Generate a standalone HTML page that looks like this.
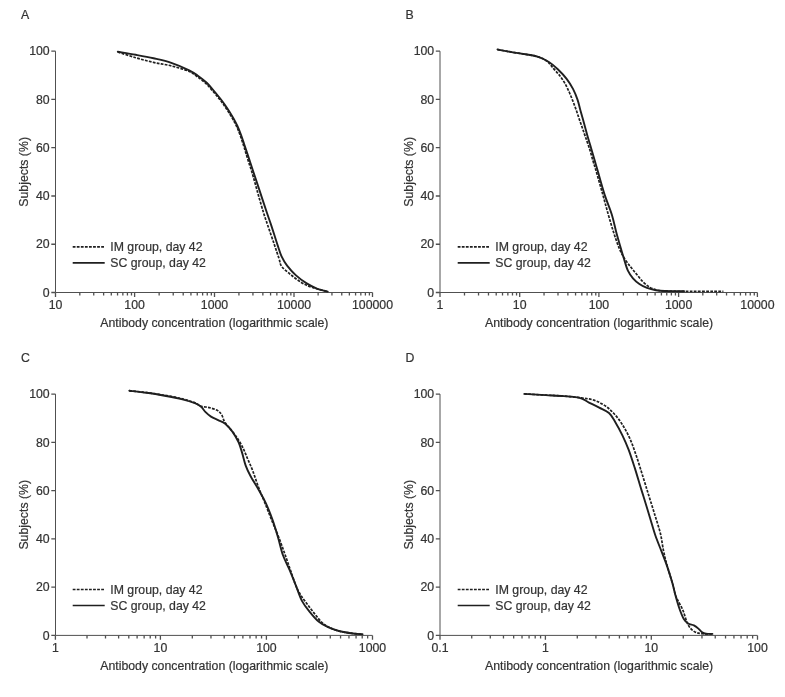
<!DOCTYPE html>
<html lang="en"><head><meta charset="utf-8"><title>Reverse cumulative distribution curves</title>
<style>html,body{margin:0;padding:0;background:#fff;}svg{display:block;}text{font-family:"Liberation Sans", sans-serif;font-size:12px;fill:#333;stroke:#333;stroke-width:0.2px;}</style>
</head><body>
<svg width="785" height="697" viewBox="0 0 785 697">
<rect width="785" height="697" fill="#fff"/>
<g>
<text transform="translate(21.00 19.00) scale(1.025 1)">A</text>
<path d="M55.50 51.20 V292.50 H372.50" fill="none" stroke="#505050" stroke-width="1"/>
<path d="M55.50 292.50 h-4.2 M55.50 244.24 h-4.2 M55.50 195.98 h-4.2 M55.50 147.72 h-4.2 M55.50 99.46 h-4.2 M55.50 51.20 h-4.2 M55.50 292.50 v4.4 M79.81 292.50 v3.0 M93.74 292.50 v3.0 M103.62 292.50 v3.0 M111.29 292.50 v3.0 M117.55 292.50 v3.0 M122.85 292.50 v3.0 M127.43 292.50 v3.0 M131.48 292.50 v3.0 M134.60 292.50 v4.4 M159.15 292.50 v3.0 M173.22 292.50 v3.0 M183.20 292.50 v3.0 M190.95 292.50 v3.0 M197.27 292.50 v3.0 M202.62 292.50 v3.0 M207.26 292.50 v3.0 M211.34 292.50 v3.0 M214.50 292.50 v4.4 M238.93 292.50 v3.0 M252.93 292.50 v3.0 M262.86 292.50 v3.0 M270.57 292.50 v3.0 M276.86 292.50 v3.0 M282.19 292.50 v3.0 M286.80 292.50 v3.0 M290.86 292.50 v3.0 M294.00 292.50 v4.4 M318.13 292.50 v3.0 M331.95 292.50 v3.0 M341.76 292.50 v3.0 M349.37 292.50 v3.0 M355.58 292.50 v3.0 M360.84 292.50 v3.0 M365.39 292.50 v3.0 M369.41 292.50 v3.0 M372.50 292.50 v4.4" fill="none" stroke="#505050" stroke-width="1.3"/>
<text transform="translate(49.70 296.70) scale(1.025 1)" text-anchor="end">0</text>
<text transform="translate(49.70 248.44) scale(1.025 1)" text-anchor="end">20</text>
<text transform="translate(49.70 200.18) scale(1.025 1)" text-anchor="end">40</text>
<text transform="translate(49.70 151.92) scale(1.025 1)" text-anchor="end">60</text>
<text transform="translate(49.70 103.66) scale(1.025 1)" text-anchor="end">80</text>
<text transform="translate(49.70 55.40) scale(1.025 1)" text-anchor="end">100</text>
<text transform="translate(55.50 308.80) scale(1.025 1)" text-anchor="middle">10</text>
<text transform="translate(134.60 308.80) scale(1.025 1)" text-anchor="middle">100</text>
<text transform="translate(214.50 308.80) scale(1.025 1)" text-anchor="middle">1000</text>
<text transform="translate(294.00 308.80) scale(1.025 1)" text-anchor="middle">10000</text>
<text transform="translate(372.50 308.80) scale(1.025 1)" text-anchor="middle">100000</text>
<text transform="translate(214.30 327.20) scale(1.025 1)" text-anchor="middle">Antibody concentration (logarithmic scale)</text>
<text transform="translate(27.90 171.85) rotate(-90) scale(1.025 1)" text-anchor="middle">Subjects (%)</text>
<path d="M72.7 246.9 h31.3" fill="none" stroke="#1f1f1f" stroke-width="1.60" stroke-dasharray="2.8 1.27"/>
<path d="M72.7 262.9 h32" fill="none" stroke="#1f1f1f" stroke-width="1.60"/>
<text transform="translate(110.30 251.20) scale(1.025 1)">IM group, day 42</text>
<text transform="translate(110.30 267.20) scale(1.025 1)">SC group, day 42</text>
<path d="M117.80 52.00 C120.78 52.95 129.75 55.97 135.70 57.70 C141.65 59.43 147.57 61.03 153.50 62.40 C159.43 63.77 165.35 64.40 171.30 65.90 C177.25 67.40 184.85 69.58 189.20 71.40 C193.55 73.22 194.63 74.80 197.40 76.80 C200.17 78.80 203.32 81.12 205.80 83.40 C208.28 85.68 210.12 88.00 212.30 90.50 C214.48 93.00 217.05 96.10 218.90 98.40 C220.75 100.70 221.87 102.17 223.40 104.30 C224.93 106.43 226.57 108.80 228.10 111.20 C229.63 113.60 231.20 116.22 232.60 118.70 C234.00 121.18 235.27 123.43 236.50 126.10 C237.73 128.77 238.90 131.72 240.00 134.70 C241.10 137.68 242.15 141.05 243.10 144.00 C244.05 146.95 244.78 149.40 245.70 152.40 C246.62 155.40 247.57 158.73 248.60 162.00 C249.63 165.27 250.35 166.77 251.90 172.00 C253.45 177.23 255.95 186.57 257.90 193.40 C259.85 200.23 262.00 207.80 263.60 213.00 C265.20 218.20 265.73 219.40 267.50 224.60 C269.27 229.80 272.28 238.55 274.20 244.20 C276.12 249.85 277.75 254.78 279.00 258.50 C280.25 262.22 279.77 263.83 281.70 266.50 C283.63 269.17 287.33 271.83 290.60 274.50 C293.87 277.17 297.73 280.37 301.30 282.50 C304.87 284.63 307.60 285.78 312.00 287.30 C316.40 288.82 325.08 290.88 327.70 291.60" fill="none" stroke="#1f1f1f" stroke-width="1.7" stroke-dasharray="2.8 1.25" stroke-linejoin="round"/>
<path d="M117.80 51.70 C120.78 52.22 129.75 53.70 135.70 54.80 C141.65 55.90 147.57 56.97 153.50 58.30 C159.43 59.63 165.35 60.80 171.30 62.80 C177.25 64.80 184.72 68.10 189.20 70.30 C193.68 72.50 195.28 73.92 198.20 76.00 C201.12 78.08 204.20 80.47 206.70 82.80 C209.20 85.13 211.02 87.47 213.20 90.00 C215.38 92.53 217.95 95.67 219.80 98.00 C221.65 100.33 222.77 101.83 224.30 104.00 C225.83 106.17 227.47 108.58 229.00 111.00 C230.53 113.42 232.10 116.00 233.50 118.50 C234.90 121.00 236.17 123.32 237.40 126.00 C238.63 128.68 239.78 131.60 240.90 134.60 C242.02 137.60 243.10 141.03 244.10 144.00 C245.10 146.97 245.90 149.40 246.90 152.40 C247.90 155.40 249.02 158.73 250.10 162.00 C251.18 165.27 251.67 166.77 253.40 172.00 C255.13 177.23 258.23 186.57 260.50 193.40 C262.77 200.23 265.25 207.80 267.00 213.00 C268.75 218.20 269.28 219.40 271.00 224.60 C272.72 229.80 275.52 238.85 277.30 244.20 C279.08 249.55 280.07 253.13 281.70 256.70 C283.33 260.27 284.72 262.48 287.10 265.60 C289.48 268.72 292.73 272.43 296.00 275.40 C299.27 278.37 303.13 281.17 306.70 283.40 C310.27 285.63 313.90 287.43 317.40 288.80 C320.90 290.17 325.98 291.13 327.70 291.60" fill="none" stroke="#1f1f1f" stroke-width="1.9" stroke-linejoin="round" stroke-linecap="round"/>
</g>
<g>
<text transform="translate(405.60 19.00) scale(1.025 1)">B</text>
<path d="M440.00 51.20 V292.50 H757.40" fill="none" stroke="#505050" stroke-width="1"/>
<path d="M440.00 292.50 h-4.2 M440.00 244.24 h-4.2 M440.00 195.98 h-4.2 M440.00 147.72 h-4.2 M440.00 99.46 h-4.2 M440.00 51.20 h-4.2 M440.00 292.50 v4.4 M464.49 292.50 v3.0 M478.53 292.50 v3.0 M488.48 292.50 v3.0 M496.21 292.50 v3.0 M502.52 292.50 v3.0 M507.85 292.50 v3.0 M512.48 292.50 v3.0 M516.55 292.50 v3.0 M519.70 292.50 v4.4 M544.04 292.50 v3.0 M557.99 292.50 v3.0 M567.88 292.50 v3.0 M575.56 292.50 v3.0 M581.83 292.50 v3.0 M587.13 292.50 v3.0 M591.72 292.50 v3.0 M595.78 292.50 v3.0 M598.90 292.50 v4.4 M623.39 292.50 v3.0 M637.43 292.50 v3.0 M647.38 292.50 v3.0 M655.11 292.50 v3.0 M661.42 292.50 v3.0 M666.75 292.50 v3.0 M671.38 292.50 v3.0 M675.45 292.50 v3.0 M678.60 292.50 v4.4 M702.82 292.50 v3.0 M716.70 292.50 v3.0 M726.54 292.50 v3.0 M734.18 292.50 v3.0 M740.42 292.50 v3.0 M745.69 292.50 v3.0 M750.26 292.50 v3.0 M754.29 292.50 v3.0 M757.40 292.50 v4.4" fill="none" stroke="#505050" stroke-width="1.3"/>
<text transform="translate(434.20 296.70) scale(1.025 1)" text-anchor="end">0</text>
<text transform="translate(434.20 248.44) scale(1.025 1)" text-anchor="end">20</text>
<text transform="translate(434.20 200.18) scale(1.025 1)" text-anchor="end">40</text>
<text transform="translate(434.20 151.92) scale(1.025 1)" text-anchor="end">60</text>
<text transform="translate(434.20 103.66) scale(1.025 1)" text-anchor="end">80</text>
<text transform="translate(434.20 55.40) scale(1.025 1)" text-anchor="end">100</text>
<text transform="translate(440.00 308.80) scale(1.025 1)" text-anchor="middle">1</text>
<text transform="translate(519.70 308.80) scale(1.025 1)" text-anchor="middle">10</text>
<text transform="translate(598.90 308.80) scale(1.025 1)" text-anchor="middle">100</text>
<text transform="translate(678.60 308.80) scale(1.025 1)" text-anchor="middle">1000</text>
<text transform="translate(757.40 308.80) scale(1.025 1)" text-anchor="middle">10000</text>
<text transform="translate(599.00 327.20) scale(1.025 1)" text-anchor="middle">Antibody concentration (logarithmic scale)</text>
<text transform="translate(412.90 171.85) rotate(-90) scale(1.025 1)" text-anchor="middle">Subjects (%)</text>
<path d="M457.7 246.9 h31.3" fill="none" stroke="#1f1f1f" stroke-width="1.60" stroke-dasharray="2.8 1.27"/>
<path d="M457.7 262.9 h32" fill="none" stroke="#1f1f1f" stroke-width="1.60"/>
<text transform="translate(495.30 251.20) scale(1.025 1)">IM group, day 42</text>
<text transform="translate(495.30 267.20) scale(1.025 1)">SC group, day 42</text>
<path d="M497.50 49.50 C499.82 49.93 506.70 51.30 511.40 52.10 C516.10 52.90 521.23 53.50 525.70 54.30 C530.17 55.10 534.63 55.75 538.20 56.90 C541.77 58.05 544.57 59.28 547.10 61.20 C549.63 63.12 551.32 66.02 553.40 68.40 C555.48 70.78 557.67 72.98 559.60 75.50 C561.53 78.02 563.37 80.67 565.00 83.50 C566.63 86.33 568.07 89.52 569.40 92.50 C570.73 95.48 571.85 98.43 573.00 101.40 C574.15 104.37 575.27 107.38 576.30 110.30 C577.33 113.22 578.20 115.98 579.20 118.90 C580.20 121.82 581.27 124.82 582.30 127.80 C583.33 130.78 584.22 133.37 585.40 136.80 C586.58 140.23 588.13 144.40 589.40 148.40 C590.67 152.40 591.85 156.93 593.00 160.80 C594.15 164.67 594.67 165.97 596.30 171.60 C597.93 177.23 600.82 187.50 602.80 194.60 C604.78 201.70 606.42 207.97 608.20 214.20 C609.98 220.43 611.70 226.42 613.50 232.00 C615.30 237.58 617.23 243.38 619.00 247.70 C620.77 252.02 622.18 254.72 624.10 257.90 C626.02 261.08 628.38 264.03 630.50 266.80 C632.62 269.57 634.68 271.95 636.80 274.50 C638.92 277.05 641.07 279.98 643.20 282.10 C645.33 284.22 647.47 285.92 649.60 287.20 C651.73 288.48 653.88 289.20 656.00 289.80 C658.12 290.40 658.30 290.55 662.30 290.80 C666.30 291.05 669.82 291.22 680.00 291.30 C690.18 291.38 716.17 291.30 723.40 291.30" fill="none" stroke="#1f1f1f" stroke-width="1.7" stroke-dasharray="2.8 1.25" stroke-linejoin="round"/>
<path d="M497.50 49.50 C499.82 49.93 506.70 51.30 511.40 52.10 C516.10 52.90 521.23 53.50 525.70 54.30 C530.17 55.10 534.33 55.62 538.20 56.90 C542.07 58.18 545.63 59.93 548.90 62.00 C552.17 64.07 554.82 66.45 557.80 69.30 C560.78 72.15 564.27 75.83 566.80 79.10 C569.33 82.37 571.22 85.48 573.00 88.90 C574.78 92.32 576.28 96.08 577.50 99.60 C578.72 103.12 579.20 106.03 580.30 110.00 C581.40 113.97 582.87 118.93 584.10 123.40 C585.33 127.87 586.52 132.63 587.70 136.80 C588.88 140.97 590.02 144.40 591.20 148.40 C592.38 152.40 593.68 156.93 594.80 160.80 C595.92 164.67 596.27 165.97 597.90 171.60 C599.53 177.23 602.30 187.50 604.60 194.60 C606.90 201.70 609.77 207.97 611.70 214.20 C613.63 220.43 614.77 226.62 616.20 232.00 C617.63 237.38 618.98 241.97 620.30 246.50 C621.62 251.03 622.83 255.17 624.10 259.20 C625.37 263.23 626.42 267.52 627.90 270.70 C629.38 273.88 631.08 276.08 633.00 278.30 C634.92 280.52 637.07 282.40 639.40 284.00 C641.73 285.60 644.23 286.87 647.00 287.90 C649.77 288.93 653.02 289.68 656.00 290.20 C658.98 290.72 660.23 290.82 664.90 291.00 C669.57 291.18 680.82 291.25 684.00 291.30" fill="none" stroke="#1f1f1f" stroke-width="1.9" stroke-linejoin="round" stroke-linecap="round"/>
</g>
<g>
<text transform="translate(21.00 361.90) scale(1.025 1)">C</text>
<path d="M55.50 394.10 V635.40 H372.50" fill="none" stroke="#505050" stroke-width="1"/>
<path d="M55.50 635.40 h-4.2 M55.50 587.14 h-4.2 M55.50 538.88 h-4.2 M55.50 490.62 h-4.2 M55.50 442.36 h-4.2 M55.50 394.10 h-4.2 M55.40 635.40 v4.4 M87.01 635.40 v3.0 M105.50 635.40 v3.0 M118.62 635.40 v3.0 M128.79 635.40 v3.0 M137.11 635.40 v3.0 M144.14 635.40 v3.0 M150.22 635.40 v3.0 M155.60 635.40 v3.0 M160.40 635.40 v4.4 M192.31 635.40 v3.0 M210.97 635.40 v3.0 M224.22 635.40 v3.0 M234.49 635.40 v3.0 M242.88 635.40 v3.0 M249.98 635.40 v3.0 M256.13 635.40 v3.0 M261.55 635.40 v3.0 M266.40 635.40 v4.4 M298.34 635.40 v3.0 M317.02 635.40 v3.0 M330.28 635.40 v3.0 M340.56 635.40 v3.0 M348.96 635.40 v3.0 M356.06 635.40 v3.0 M362.22 635.40 v3.0 M367.65 635.40 v3.0 M372.50 635.40 v4.4" fill="none" stroke="#505050" stroke-width="1.3"/>
<text transform="translate(49.70 639.60) scale(1.025 1)" text-anchor="end">0</text>
<text transform="translate(49.70 591.34) scale(1.025 1)" text-anchor="end">20</text>
<text transform="translate(49.70 543.08) scale(1.025 1)" text-anchor="end">40</text>
<text transform="translate(49.70 494.82) scale(1.025 1)" text-anchor="end">60</text>
<text transform="translate(49.70 446.56) scale(1.025 1)" text-anchor="end">80</text>
<text transform="translate(49.70 398.30) scale(1.025 1)" text-anchor="end">100</text>
<text transform="translate(55.40 651.70) scale(1.025 1)" text-anchor="middle">1</text>
<text transform="translate(160.40 651.70) scale(1.025 1)" text-anchor="middle">10</text>
<text transform="translate(266.40 651.70) scale(1.025 1)" text-anchor="middle">100</text>
<text transform="translate(372.50 651.70) scale(1.025 1)" text-anchor="middle">1000</text>
<text transform="translate(214.30 670.10) scale(1.025 1)" text-anchor="middle">Antibody concentration (logarithmic scale)</text>
<text transform="translate(27.90 514.75) rotate(-90) scale(1.025 1)" text-anchor="middle">Subjects (%)</text>
<path d="M72.7 589.5 h31.3" fill="none" stroke="#1f1f1f" stroke-width="1.50" stroke-dasharray="2.8 1.27"/>
<path d="M72.7 605.5 h32" fill="none" stroke="#1f1f1f" stroke-width="1.50"/>
<text transform="translate(110.30 594.20) scale(1.025 1)">IM group, day 42</text>
<text transform="translate(110.30 610.20) scale(1.025 1)">SC group, day 42</text>
<path d="M129.30 390.70 C132.22 391.02 140.92 391.83 146.80 392.60 C152.68 393.37 158.67 394.27 164.60 395.30 C170.53 396.33 177.35 397.55 182.40 398.80 C187.45 400.05 191.78 401.57 194.90 402.80 C198.02 404.03 198.72 405.40 201.10 406.20 C203.48 407.00 206.52 406.92 209.20 407.60 C211.88 408.28 215.12 409.10 217.20 410.30 C219.28 411.50 220.37 412.72 221.70 414.80 C223.03 416.88 223.13 419.68 225.20 422.80 C227.27 425.92 231.30 429.63 234.10 433.50 C236.90 437.37 239.77 441.83 242.00 446.00 C244.23 450.17 245.70 454.33 247.50 458.50 C249.30 462.67 250.95 466.17 252.80 471.00 C254.65 475.83 256.57 482.13 258.60 487.50 C260.63 492.87 262.77 497.63 265.00 503.20 C267.23 508.77 269.67 515.10 272.00 520.90 C274.33 526.70 276.78 532.27 279.00 538.00 C281.22 543.73 283.37 549.87 285.30 555.30 C287.23 560.73 288.82 565.50 290.60 570.60 C292.38 575.70 294.33 581.83 296.00 585.90 C297.67 589.97 298.82 592.08 300.60 595.00 C302.38 597.92 304.42 600.33 306.70 603.40 C308.98 606.47 311.75 610.22 314.30 613.40 C316.85 616.58 319.55 620.18 322.00 622.50 C324.45 624.82 326.20 625.88 329.00 627.30 C331.80 628.72 335.13 630.02 338.80 631.00 C342.47 631.98 347.05 632.65 351.00 633.20 C354.95 633.75 360.58 634.12 362.50 634.30" fill="none" stroke="#1f1f1f" stroke-width="1.7" stroke-dasharray="2.8 1.25" stroke-linejoin="round"/>
<path d="M129.30 390.70 C132.22 391.05 140.92 391.97 146.80 392.80 C152.68 393.63 158.67 394.62 164.60 395.70 C170.53 396.78 177.35 398.05 182.40 399.30 C187.45 400.55 191.78 401.95 194.90 403.20 C198.02 404.45 199.32 405.32 201.10 406.80 C202.88 408.28 203.95 410.47 205.60 412.10 C207.25 413.73 208.92 415.27 211.00 416.60 C213.08 417.93 215.73 418.92 218.10 420.10 C220.47 421.28 222.82 421.77 225.20 423.70 C227.58 425.63 230.17 428.58 232.40 431.70 C234.63 434.82 236.97 438.83 238.60 442.40 C240.23 445.97 241.02 449.23 242.20 453.10 C243.38 456.97 244.32 461.78 245.70 465.60 C247.08 469.42 248.37 472.02 250.50 476.00 C252.63 479.98 255.97 485.03 258.50 489.50 C261.03 493.97 263.32 497.62 265.70 502.80 C268.08 507.98 270.72 514.73 272.80 520.60 C274.88 526.47 276.50 532.22 278.20 538.00 C279.90 543.78 281.05 549.87 283.00 555.30 C284.95 560.73 287.73 565.50 289.90 570.60 C292.07 575.70 293.97 580.82 296.00 585.90 C298.03 590.98 299.82 596.78 302.10 601.10 C304.38 605.42 306.90 608.35 309.70 611.80 C312.50 615.25 315.83 619.25 318.90 621.80 C321.97 624.35 324.78 625.57 328.10 627.10 C331.42 628.63 334.98 629.98 338.80 631.00 C342.62 632.02 347.05 632.65 351.00 633.20 C354.95 633.75 360.58 634.12 362.50 634.30" fill="none" stroke="#1f1f1f" stroke-width="1.9" stroke-linejoin="round" stroke-linecap="round"/>
</g>
<g>
<text transform="translate(405.60 361.90) scale(1.025 1)">D</text>
<path d="M440.00 394.10 V635.40 H757.50" fill="none" stroke="#505050" stroke-width="1"/>
<path d="M440.00 635.40 h-4.2 M440.00 587.14 h-4.2 M440.00 538.88 h-4.2 M440.00 490.62 h-4.2 M440.00 442.36 h-4.2 M440.00 394.10 h-4.2 M440.00 635.40 v4.4 M471.73 635.40 v3.0 M490.29 635.40 v3.0 M503.46 635.40 v3.0 M513.67 635.40 v3.0 M522.02 635.40 v3.0 M529.07 635.40 v3.0 M535.19 635.40 v3.0 M540.58 635.40 v3.0 M545.40 635.40 v4.4 M577.28 635.40 v3.0 M595.93 635.40 v3.0 M609.16 635.40 v3.0 M619.42 635.40 v3.0 M627.81 635.40 v3.0 M634.90 635.40 v3.0 M641.04 635.40 v3.0 M646.45 635.40 v3.0 M651.30 635.40 v4.4 M683.27 635.40 v3.0 M701.97 635.40 v3.0 M715.24 635.40 v3.0 M725.53 635.40 v3.0 M733.94 635.40 v3.0 M741.05 635.40 v3.0 M747.21 635.40 v3.0 M752.64 635.40 v3.0 M757.50 635.40 v4.4" fill="none" stroke="#505050" stroke-width="1.3"/>
<text transform="translate(434.20 639.60) scale(1.025 1)" text-anchor="end">0</text>
<text transform="translate(434.20 591.34) scale(1.025 1)" text-anchor="end">20</text>
<text transform="translate(434.20 543.08) scale(1.025 1)" text-anchor="end">40</text>
<text transform="translate(434.20 494.82) scale(1.025 1)" text-anchor="end">60</text>
<text transform="translate(434.20 446.56) scale(1.025 1)" text-anchor="end">80</text>
<text transform="translate(434.20 398.30) scale(1.025 1)" text-anchor="end">100</text>
<text transform="translate(440.00 651.70) scale(1.025 1)" text-anchor="middle">0.1</text>
<text transform="translate(545.40 651.70) scale(1.025 1)" text-anchor="middle">1</text>
<text transform="translate(651.30 651.70) scale(1.025 1)" text-anchor="middle">10</text>
<text transform="translate(757.50 651.70) scale(1.025 1)" text-anchor="middle">100</text>
<text transform="translate(599.05 670.10) scale(1.025 1)" text-anchor="middle">Antibody concentration (logarithmic scale)</text>
<text transform="translate(412.90 514.75) rotate(-90) scale(1.025 1)" text-anchor="middle">Subjects (%)</text>
<path d="M457.7 589.5 h31.3" fill="none" stroke="#1f1f1f" stroke-width="1.50" stroke-dasharray="2.8 1.27"/>
<path d="M457.7 605.5 h32" fill="none" stroke="#1f1f1f" stroke-width="1.50"/>
<text transform="translate(495.30 594.20) scale(1.025 1)">IM group, day 42</text>
<text transform="translate(495.30 610.20) scale(1.025 1)">SC group, day 42</text>
<path d="M524.30 393.90 C527.87 394.10 539.17 394.73 545.70 395.10 C552.23 395.47 557.57 395.63 563.50 396.10 C569.43 396.57 576.25 397.23 581.30 397.90 C586.35 398.57 589.93 398.85 593.80 400.10 C597.67 401.35 601.23 403.25 604.50 405.40 C607.77 407.55 610.42 409.80 613.40 413.00 C616.38 416.20 619.63 420.28 622.40 424.60 C625.17 428.92 627.73 433.85 630.00 438.90 C632.27 443.95 634.05 449.27 636.00 454.90 C637.95 460.53 639.92 467.05 641.70 472.70 C643.48 478.35 645.40 484.62 646.70 488.80 C648.00 492.98 648.10 493.32 649.50 497.80 C650.90 502.28 653.28 509.75 655.10 515.70 C656.92 521.65 658.98 527.57 660.40 533.50 C661.82 539.43 662.48 545.95 663.60 551.30 C664.72 556.65 665.65 560.37 667.10 565.60 C668.55 570.83 670.92 577.83 672.30 582.70 C673.68 587.57 674.45 591.82 675.40 594.80 C676.35 597.78 676.72 597.93 678.00 600.60 C679.28 603.27 681.62 607.20 683.10 610.80 C684.58 614.40 685.62 619.23 686.90 622.20 C688.18 625.17 689.30 626.90 690.80 628.60 C692.30 630.30 694.00 631.55 695.90 632.40 C697.80 633.25 699.45 633.43 702.20 633.70 C704.95 633.97 710.70 633.95 712.40 634.00" fill="none" stroke="#1f1f1f" stroke-width="1.7" stroke-dasharray="2.8 1.25" stroke-linejoin="round"/>
<path d="M524.30 393.90 C527.87 394.10 539.17 394.73 545.70 395.10 C552.23 395.47 557.85 395.65 563.50 396.10 C569.15 396.55 575.43 396.77 579.60 397.80 C583.77 398.83 585.23 400.67 588.50 402.30 C591.77 403.93 595.78 405.82 599.20 407.60 C602.62 409.38 606.33 410.62 609.00 413.00 C611.67 415.38 612.97 418.18 615.20 421.90 C617.43 425.62 620.17 430.68 622.40 435.30 C624.63 439.92 626.57 444.25 628.60 449.60 C630.63 454.95 632.70 461.47 634.60 467.40 C636.50 473.33 638.45 480.13 640.00 485.20 C641.55 490.27 642.25 492.42 643.90 497.80 C645.55 503.18 648.00 511.25 649.90 517.50 C651.80 523.75 653.37 529.67 655.30 535.30 C657.23 540.93 659.57 546.25 661.50 551.30 C663.43 556.35 665.10 560.37 666.90 565.60 C668.70 570.83 670.87 577.72 672.30 582.70 C673.73 587.68 674.33 591.25 675.50 595.50 C676.67 599.75 677.92 604.28 679.30 608.20 C680.68 612.12 682.32 616.45 683.80 619.00 C685.28 621.55 686.52 622.43 688.20 623.50 C689.88 624.57 692.20 624.55 693.90 625.40 C695.60 626.25 697.02 627.43 698.40 628.60 C699.78 629.77 700.93 631.55 702.20 632.40 C703.47 633.25 704.30 633.45 706.00 633.70 C707.70 633.95 711.33 633.87 712.40 633.90" fill="none" stroke="#1f1f1f" stroke-width="1.9" stroke-linejoin="round" stroke-linecap="round"/>
</g>
</svg></body></html>
